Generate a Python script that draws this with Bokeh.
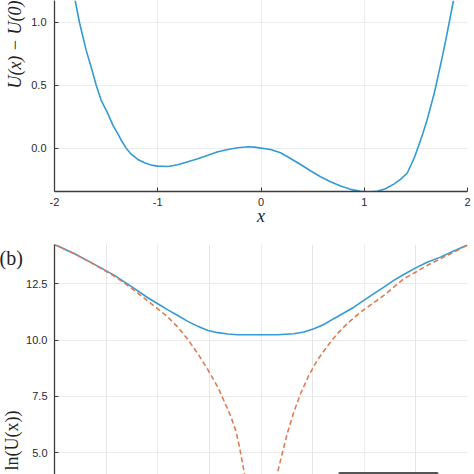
import numpy as np
from bokeh.plotting import figure
from bokeh.layouts import column
from bokeh.models import (FixedTicker, NumeralTickFormatter, Grid,
                          Range1d, BoxAnnotation, Title)
from bokeh.embed import file_html
from bokeh.resources import INLINE

# ---------------- data ----------------
x_ticks = [-2, -1, 0, 1, 2]
x_tick_labels = {-2: "-2", -1: "-1", 0: "0", 1: "1", 2: "2"}
ya_ticks = [0.0, 0.5, 1.0]
yb_ticks = [5.0, 7.5, 10.0, 12.5]

# panel (a): U(x) - U(0)
x_a = np.array([-1.800, -1.758, -1.693, -1.645, -1.596, -1.548, -1.483, -1.435,
                -1.387, -1.354, -1.306, -1.257, -1.193, -1.128, -1.064, -1.0,
                -0.902, -0.805, -0.709, -0.612, -0.515, -0.418, -0.321, -0.224,
                -0.128, -0.063, 0.0, 0.092, 0.189, 0.286, 0.383, 0.479, 0.576,
                0.673, 0.770, 0.867, 0.964, 1.044, 1.125, 1.205, 1.286, 1.351,
                1.415, 1.455, 1.490, 1.518, 1.565, 1.608, 1.678, 1.738, 1.789,
                1.823, 1.864])
u_a = np.array([1.175, 1.0, 0.778, 0.646, 0.5, 0.381, 0.275, 0.183,
                0.116, 0.063, 0.0, -0.048, -0.090, -0.116, -0.135, -0.143,
                -0.146, -0.132, -0.108, -0.085, -0.056, -0.029, -0.011, 0.003,
                0.011, 0.008, 0.0, -0.011, -0.037, -0.082, -0.130, -0.180, -0.228,
                -0.267, -0.302, -0.328, -0.344, -0.349, -0.344, -0.323, -0.286, -0.249,
                -0.200, -0.130, -0.065, 0.0, 0.110, 0.222, 0.437, 0.659, 0.857,
                1.0, 1.175])

# panel (b): ln(U(x)) (solid)
x_b = np.array([-2.0, -1.806, -1.613, -1.419, -1.225, -1.096, -1.0, -0.902, -0.806,
                -0.709, -0.612, -0.515, -0.418, -0.321, -0.224, 0.0, 0.157, 0.318,
                0.415, 0.512, 0.609, 0.705, 0.802, 0.899, 0.996, 1.093, 1.190,
                1.286, 1.383, 1.480, 1.609, 1.738, 1.867, 2.0])
ln_b = np.array([14.24, 13.83, 13.36, 12.87, 12.28, 11.88, 11.61, 11.34, 11.09,
                 10.83, 10.61, 10.43, 10.33, 10.27, 10.24, 10.24, 10.24, 10.28,
                 10.36, 10.50, 10.69, 10.95, 11.20, 11.46, 11.76, 12.06, 12.35,
                 12.65, 12.91, 13.16, 13.45, 13.68, 13.95, 14.22])

# panel (b): approximation (dashed); NaN splits the two branches
x_c = np.array([-2.0, -1.806, -1.613, -1.419, -1.322, -1.225, -1.112, -1.0, -0.902,
                -0.806, -0.709, -0.612, -0.515, -0.418, -0.353, -0.289, -0.240,
                -0.208, -0.160, -0.137, np.nan, 0.124, 0.157, 0.205, 0.254, 0.318,
                0.383, 0.463, 0.544, 0.641, 0.738, 0.851, 0.964, 1.077, 1.190,
                1.286, 1.383, 1.497, 1.609, 1.738, 1.867, 2.0])
ln_c = np.array([14.24, 13.83, 13.35, 12.83, 12.53, 12.20, 11.79, 11.39, 11.02,
                 10.58, 10.03, 9.40, 8.69, 7.91, 7.25, 6.58, 5.92,
                 5.25, 4.07, 3.50, np.nan, 3.50, 4.07, 4.96, 5.85, 6.81,
                 7.62, 8.43, 9.10, 9.72, 10.28, 10.80, 11.24, 11.61, 11.98,
                 12.35, 12.72, 13.01, 13.31, 13.61, 13.90, 14.22])

BLUE = "#349ad6"
ORANGE = "#e07a52"
AXIS = "#3c3c3c"
GRID = "#ebebeb"
TICKFONT = "Liberation Sans"
SERIF = "Liberation Serif"
LEFT = 54
W = 474


def style_axis(ax):
    ax.axis_line_color = AXIS
    ax.axis_line_width = 1.3
    ax.major_tick_line_color = AXIS
    ax.major_tick_in = 4
    ax.major_tick_out = 0
    ax.minor_tick_line_color = None
    ax.major_label_text_font = TICKFONT
    ax.major_label_text_font_size = "11px"
    ax.major_label_text_color = "#2a2a2a"


# ---------------- panel (a) ----------------
pa = figure(width=W, height=236, output_backend="svg", toolbar_location=None,
            x_range=Range1d(-2, 2), y_range=Range1d(-0.345, 1.175),
            min_border_left=LEFT, min_border_right=7, min_border_top=0,
            min_border_bottom=45)
pa.outline_line_color = None
pa.background_fill_color = "white"
pa.border_fill_color = "white"
pa.xaxis.ticker = FixedTicker(ticks=x_ticks)
pa.xaxis.major_label_overrides = x_tick_labels
pa.yaxis.ticker = FixedTicker(ticks=ya_ticks)
pa.yaxis.formatter = NumeralTickFormatter(format="0.0")
for ax in (pa.xaxis[0], pa.yaxis[0]):
    style_axis(ax)
pa.yaxis.major_label_standoff = 8
pa.xaxis.major_label_standoff = 6
pa.xaxis.axis_label = "x"
pa.xaxis.axis_label_text_font = SERIF
pa.xaxis.axis_label_text_font_style = "italic"
pa.xaxis.axis_label_text_font_size = "18px"
pa.xaxis.axis_label_standoff = -3
pa.xaxis.axis_label_text_color = "#222222"
pa.xgrid.grid_line_color = GRID
pa.ygrid.grid_line_color = GRID
pa.xgrid.ticker = FixedTicker(ticks=x_ticks)
pa.ygrid.ticker = FixedTicker(ticks=ya_ticks)

pa.line(x_a, u_a, line_color=BLUE, line_width=1.6)

pa.add_layout(Title(text="U(x) − U(0)", align="right", offset=0, standoff=4,
                    vertical_align="top",
                    text_font=SERIF, text_font_style="italic",
                    text_font_size="18px", text_color="#222222"), "left")

# ---------------- panel (b) ----------------
pb = figure(width=W, height=238, output_backend="svg", toolbar_location=None,
            x_range=Range1d(-2, 2), y_range=Range1d(4.04, 14.24),
            x_axis_location=None,
            min_border_left=LEFT, min_border_right=7, min_border_top=8,
            min_border_bottom=0)
pb.outline_line_color = None
pb.background_fill_color = "white"
pb.border_fill_color = "white"
pb.yaxis.ticker = FixedTicker(ticks=yb_ticks)
pb.yaxis.formatter = NumeralTickFormatter(format="0.0")
style_axis(pb.yaxis[0])
pb.yaxis.major_label_standoff = 7
pb.ygrid.grid_line_color = GRID
pb.ygrid.ticker = FixedTicker(ticks=yb_ticks)
pb.add_layout(Grid(dimension=0, ticker=FixedTicker(ticks=x_ticks), grid_line_color=GRID))

pb.line(x_b, ln_b, line_color=BLUE, line_width=1.6)
pb.line(x_c, ln_c, line_color=ORANGE, line_width=1.6, line_dash="5 3")

# top edge of the legend box (bottom right)
pb.add_layout(BoxAnnotation(left=0.760, right=1.709, top=4.11, bottom=2.0,
                            fill_color="white", fill_alpha=1.0,
                            line_color="#555555", line_width=2, line_alpha=1.0))

pb.add_layout(Title(text="ln(U(x))", align="left", offset=4, standoff=0,
                    vertical_align="top",
                    text_font=SERIF, text_font_style="normal",
                    text_font_size="18px", text_color="#222222"), "left")
pb.add_layout(Title(text="(b)", align="left", offset=-55, standoff=-48,
                    vertical_align="bottom",
                    text_font=SERIF, text_font_style="normal",
                    text_font_size="20px", text_color="#222222"), "above")

layout = column(pa, pb, spacing=0)
open("out.html", "w").write(file_html(layout, INLINE))
